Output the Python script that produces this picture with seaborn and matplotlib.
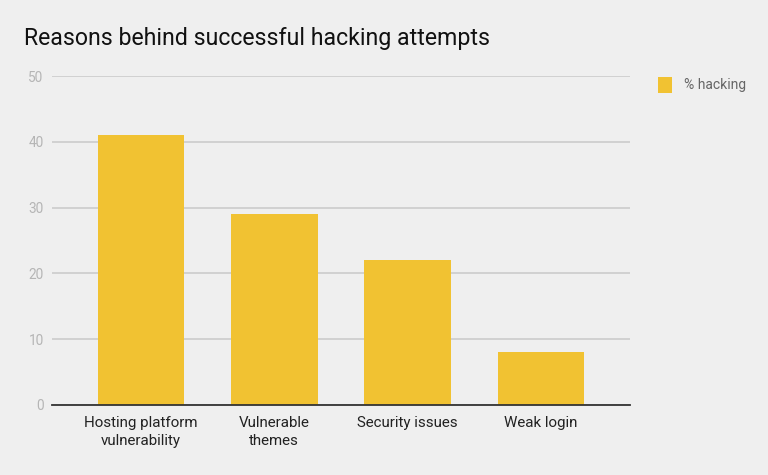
import matplotlib
matplotlib.use("Agg")
import matplotlib.pyplot as plt
import seaborn as sns
import pandas as pd

categories = ["Hosting platform\nvulnerability", "Vulnerable\nthemes", "Security issues", "Weak login"]
values = [41, 29, 22, 8]
series_name = "% hacking"
y_ticks = [0, 10, 20, 30, 40, 50]

sns.set_theme(style="white")
plt.rcParams['font.family'] = ['Roboto', 'DejaVu Sans']

bg = "#efefef"
fig = plt.figure(figsize=(7.68, 4.75), dpi=100, facecolor=bg)
ax = fig.add_axes([52/768, 1-405/475, (630-52)/768, (405-76)/475])
ax.set_facecolor(bg)

df = pd.DataFrame({"cat": categories, "val": values})
sns.barplot(data=df, x="cat", y="val", color="#f1c232", saturation=1, width=0.65,
            label=series_name, ax=ax, zorder=3, linewidth=0, edgecolor="#f1c232")

ax.set_xlim(-0.667, 3.667)
ax.set_ylim(0, 50)
ax.set_yticks(y_ticks)
ax.yaxis.grid(True, color="#cccccc", linewidth=1.2, zorder=0)
ax.set_axisbelow(True)
for s in ["top", "right", "left"]:
    ax.spines[s].set_visible(False)
ax.spines["bottom"].set_color("#333333")
ax.spines["bottom"].set_linewidth(1.3)
ax.spines["bottom"].set_zorder(5)
ax.tick_params(axis="y", length=0, pad=6, labelsize=9.8, labelcolor="#b5b5b5")
ax.tick_params(axis="x", length=0, pad=8, labelsize=10.9, labelcolor="#222222")
for lab in ax.get_xticklabels():
    lab.set_linespacing(1.35)
ax.set_xlabel("")
ax.set_ylabel("")

fig.text(24/768, 1-38/475, "Reasons behind successful hacking attempts",
         fontsize=16.7, color="#111111", va="center", ha="left")

leg = ax.legend(loc="upper left", bbox_to_anchor=(645/768, 1-64/475),
                bbox_transform=fig.transFigure, frameon=False,
                handlelength=1.05, handleheight=1.4, handletextpad=0.85,
                fontsize=10, labelcolor="#666666")

fig.savefig("out.png", dpi=100, facecolor=bg)
